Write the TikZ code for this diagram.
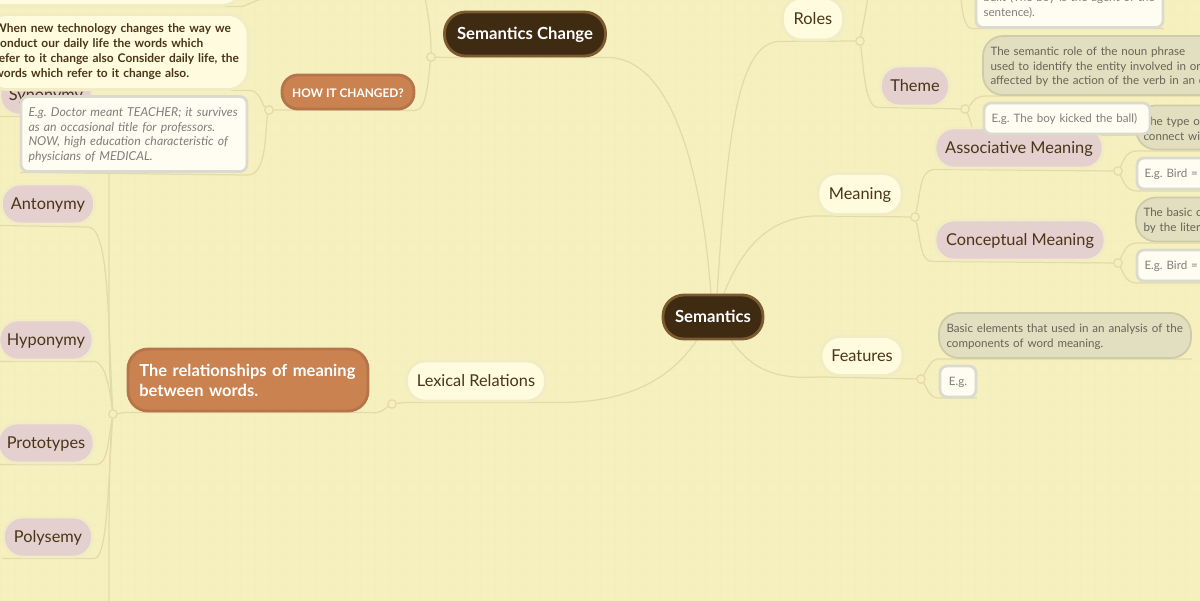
\documentclass[tikz,border=0pt]{standalone}
\usepackage{fontspec}
\setmainfont{Lato}
\usetikzlibrary{backgrounds}
\definecolor{paper}{HTML}{F6F0BF}
\definecolor{gridc}{HTML}{F4EEBC}
\definecolor{linec}{HTML}{E3D9A9}
\definecolor{inkc}{HTML}{4A3517}
\definecolor{darkc}{HTML}{3F2A12}
\definecolor{darkb}{HTML}{7C5A30}
\definecolor{orangec}{HTML}{C98250}
\definecolor{orangeb}{HTML}{B5744A}
\definecolor{creamc}{HTML}{FFFBDE}
\definecolor{creamb}{HTML}{F2ECC4}
\definecolor{pinkc}{HTML}{E3D0CF}
\definecolor{grayc}{HTML}{E2DFC0}
\definecolor{grayb}{HTML}{CFCBA8}
\definecolor{whitec}{HTML}{FFFDF2}
\definecolor{whiteb}{HTML}{DBDACF}
\tikzset{
  sized/.style 2 args={minimum width=#1*0.02cm, minimum height=#2*0.02cm},
  pill/.style={rounded corners=0.38cm, line width=1.6pt, inner sep=0pt, outer sep=0.8pt, text=inkc,
    font=\fontsize{9.3}{11}\selectfont},
  oneline/.style={text height=7pt, text depth=1pt},
  topic/.style={pill, oneline, fill=creamc, draw=creamb},
  subtopic/.style={pill, oneline, fill=pinkc, draw=creamb},
  rootnode/.style={pill, oneline, rounded corners=0.42cm, fill=darkc, draw=darkb, text=white, font=\fontsize{9.5}{11}\bfseries\selectfont},
  accent/.style={pill, fill=orangec, draw=orangeb, text=white},
  note/.style 2 args={sized={#1}{#2}, rounded corners=0.22cm, line width=1pt, inner xsep=0.15cm, inner ysep=0pt,
    outer sep=0.5pt, text width={(#1-15)*0.02cm}, align=left, font=\fontsize{6.6}{8.5}\selectfont,
    execute at begin node={\frenchspacing\hyphenpenalty=10000 }},
  nudge/.style={execute at begin node={\frenchspacing\hyphenpenalty=10000 \rule{0pt}{6.3pt}}},
  graynote/.style 2 args={note={#1}{#2}, nudge, rounded corners=0.4cm, fill=grayc, draw=grayb, text=black!55!grayc},
  whitenote/.style 2 args={note={#1}{#2}, nudge, rounded corners=0.14cm, line width=1.6pt, fill=whitec, draw=whiteb, text=black!50!whitec},
  yellownote/.style 2 args={note={#1}{#2}, rounded corners=0.4cm, line width=1.6pt, fill=creamc, draw=creamb, text=inkc,
    font=\fontsize{6.8}{8.5}\bfseries\selectfont},
  hub/.style={circle, draw=linec, fill=paper, line width=0.7pt, minimum size=0.17cm, inner sep=0pt},
  link/.style={draw=linec, line width=0.7pt}
}
\begin{document}
\begin{tikzpicture}[x=0.02cm,y=-0.02cm]
\path[use as bounding box,clip] (0,0) rectangle (1200,600);
% centre
\node[rootnode,sized={100}{44}] (semantics) at (713,317) {Semantics};
% left side
\node[rootnode,sized={161}{44}] (change) at (525,34) {Semantics Change};
\node[accent,oneline,rounded corners=0.32cm,sized={132}{34},font=\fontsize{6.75}{8}\bfseries\selectfont] (how) at (348,92) {HOW IT CHANGED?};
\node[subtopic,sized={92}{40}] (synonymy) at (46,95) {Synonymy};
\node[yellownote={280}{75}] (topbox) at (102,-32) {};
\node[yellownote={261}{75}] (usage) at (117.5,52) {When new technology changes the way we\\conduct our daily life the words which\\refer to it change also Consider daily life, the\\words which refer to it change also.};
\node[whitenote={226}{75},font=\fontsize{7}{8.5}\itshape\selectfont] (doctor) at (134,134) {E.g. Doctor meant TEACHER; it survives\\as an occasional title for professors.\\NOW, high education characteristic of\\physicians of MEDICAL.};
\node[subtopic,sized={93}{40}] (antonymy) at (48,204) {Antonymy};
\node[subtopic,sized={94}{40}] (hyponymy) at (46,340) {Hyponymy};
\node[subtopic,sized={96}{40}] (prototypes) at (46,443) {Prototypes};
\node[subtopic,sized={89}{40}] (polysemy) at (48,537) {Polysemy};
\node[accent,sized={240}{62},rounded corners=0.4cm,text width=4.35cm,align=left,font=\fontsize{9.4}{11.4}\bfseries\selectfont] (relations) at (248,380) {The relationships of meaning\\between words.};
\node[topic,sized={139}{40}] (lexical) at (476,381) {Lexical Relations};
% right side
\node[topic,sized={61}{42}] (roles) at (813,19) {Roles};
\node[whitenote={187}{46}] (rolesnote) at (1069.5,4.5) {built (The boy is the agent of the\\sentence).};
\node[subtopic,sized={69}{40}] (theme) at (915,86) {Theme};
\node[graynote={247}{59}] (themenote) at (1106.5,65.5) {The semantic role of the noun phrase\\used to identify the entity involved in or\\affected by the action of the verb in an e};
\node[topic,sized={84}{41}] (meaning) at (860,194) {Meaning};
\node[subtopic,sized={168}{40}] (associative) at (1019,148) {Associative Meaning};
\node[graynote={100}{44}] (assocnote) at (1186,127.5) {The type o\\connect wi};
\node[whitenote={166}{31}] (boynote) at (1067,118.5) {E.g. The boy kicked the ball)};
\node[whitenote={100}{31}] (assocbird) at (1187,173.5) {E.g. Bird =};
\node[subtopic,sized={170}{40}] (conceptual) at (1020,240) {Conceptual Meaning};
\node[graynote={100}{44}] (concnote) at (1186,219.5) {The basic c\\by the liter};
\node[whitenote={100}{31}] (concbird) at (1187,265.5) {E.g. Bird =};
\node[topic,sized={82}{39}] (features) at (862,356) {Features};
\node[graynote={252}{45}] (featnote) at (1065,335.5) {Basic elements that used in an analysis of the\\components of word meaning.};
\node[whitenote={36}{31},inner xsep=0pt,align=center,text width=0.72cm] (featbird) at (958,381.5) {E.g.};
% hubs
\node[hub] (hubchange) at (431,57) {};
\node[hub] (hubhow) at (269,110) {};
\node[hub] (hubrelations) at (113,414) {};
\node[hub] (hublexical) at (392,404) {};
\node[hub] (hubroles) at (860,41) {};
\node[hub] (hubtheme) at (965,109) {};
\node[hub] (hubmeaning) at (915,217) {};
\node[hub] (hubassoc) at (1118,171) {};
\node[hub] (hubconc) at (1118,263) {};
\node[hub] (hubfeatures) at (921,379) {};
% free ends at the page edge
\coordinate (upchange) at (425,-3);
\coordinate (uproles) at (868,-3);
\coordinate (upnote) at (961,-3);
\coordinate (uptop) at (263,-2);
\coordinate (downtrunk) at (109,603);
\coordinate (edgethemea) at (1203,96);
\coordinate (edgeb) at (1203,191);
\coordinate (edgec) at (1203,151);
\coordinate (edged) at (1203,243);
\coordinate (edgee) at (1203,283);
\begin{pgfonlayer}{background}
\fill[paper] (0,0) rectangle (1200,600);
\foreach \gx in {0,15,...,1200} \draw[gridc,line width=0.2pt] (\gx,0) -- (\gx,600);
\foreach \gy in {0,15,...,600} \draw[gridc,line width=0.2pt] (0,\gy) -- (1200,\gy);
\draw[link] (semantics.95) .. controls (700,150) and (665,57) .. (change.south east) -- (change.south west) -- (hubchange);
\draw[link] (hubchange) .. controls (431,30) and (428,15) .. (upchange);
\draw[link] (hubchange) .. controls (428,80) and (427,110) .. (how.south east) -- (hubhow);
\draw[link] (hubhow) .. controls (262,105) and (260,90) .. (usage.south east) -- (20,90);
\draw[link] (hubhow) .. controls (265,125) and (268,175) .. (248,175) -- (doctor.south west);
\draw[link] (topbox.south west) -- (topbox.south east) -- (uptop);
\draw[link] (semantics.235) .. controls (660,395) and (600,404) .. (lexical.south east) -- (lexical.south west) -- (hublexical);
\draw[link] (hublexical) .. controls (383,410) and (380,414) .. (relations.south east) -- (relations.south west) -- (hubrelations);
\draw[link] (hubrelations) .. controls (109,380) and (109,340) .. (109,300) -- (109,150) .. controls (109,125) and (105,118) .. (synonymy.south east) -- (synonymy.south west);
\draw[link] (hubrelations) .. controls (109,450) and (109,500) .. (downtrunk);
\draw[link] (hubrelations) .. controls (108,330) and (110,227) .. (88,227) -- (antonymy.south west);
\draw[link] (hubrelations) .. controls (109,385) and (105,363) .. (hyponymy.south east) -- (hyponymy.south west);
\draw[link] (hubrelations) .. controls (108,440) and (108,466) .. (prototypes.south east) -- (prototypes.south west);
\draw[link] (hubrelations) .. controls (108,480) and (108,560) .. (polysemy.south east) -- (polysemy.south west);
\draw[link] (semantics.80) .. controls (728,120) and (740,41) .. (roles.south west) -- (hubroles);
\draw[link] (hubroles) .. controls (863,25) and (866,10) .. (uproles);
\draw[link] (hubroles) .. controls (864,70) and (865,109) .. (theme.south west) -- (hubtheme);
\draw[link] (upnote) .. controls (963,25) and (968,30) .. (rolesnote.south west) -- (rolesnote.south east);
\draw[link] (hubtheme) .. controls (972,104) and (974,96) .. (985,96) -- (edgethemea);
\draw[link] (hubtheme) .. controls (970,118) and (971,125) .. (975,137) -- (boynote.south east) -- ++(60,0);
\draw[link] (semantics.65) .. controls (745,240) and (775,217) .. (meaning.south west) -- (hubmeaning);
\draw[link] (hubmeaning) .. controls (921,190) and (920,171) .. (associative.south west) -- (hubassoc);
\draw[link] (hubmeaning) .. controls (921,240) and (920,263) .. (conceptual.south west) -- (hubconc);
\draw[link] (hubassoc) .. controls (1124,160) and (1126,151) .. (1137,151) -- (edgec);
\draw[link] (hubassoc) .. controls (1124,182) and (1126,191) .. (1137,191) -- (edgeb);
\draw[link] (hubconc) .. controls (1124,252) and (1126,243) .. (1137,243) -- (edged);
\draw[link] (hubconc) .. controls (1124,274) and (1126,283) .. (1137,283) -- (edgee);
\draw[link] (semantics.308) .. controls (755,375) and (785,379) .. (features.south west) -- (hubfeatures);
\draw[link] (hubfeatures) .. controls (927,370) and (930,360) .. (featnote.south west) -- (featnote.south east);
\draw[link] (hubfeatures) .. controls (927,388) and (930,399) .. (featbird.south west) -- (featbird.south east);
\end{pgfonlayer}
\end{tikzpicture}
\end{document}
